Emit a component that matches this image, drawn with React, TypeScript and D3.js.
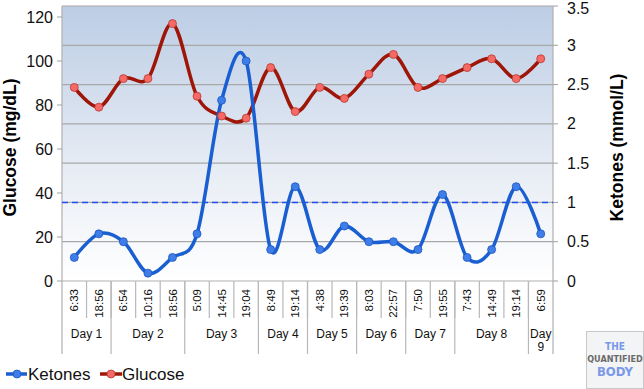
import React from "react";
import * as d3 from "d3";

const times = ["6:33","18:56","6:54","10:16","18:56","5:09","14:45","19:04","8:49","19:14","4:38","19:39","8:03","22:57","7:50","19:55","7:43","14:49","19:14","6:59"];
const days = [
  { label: "Day 1", count: 2 },
  { label: "Day 2", count: 3 },
  { label: "Day 3", count: 3 },
  { label: "Day 4", count: 2 },
  { label: "Day 5", count: 2 },
  { label: "Day 6", count: 2 },
  { label: "Day 7", count: 2 },
  { label: "Day 8", count: 3 },
  { label: "Day 9", count: 1 },
];
const glucose = [88,79,92,92,117,84,75,74,97,77,88,83,94,103,88,92,97,101,92,101];
const ketones = [0.3,0.6,0.5,0.1,0.3,0.6,2.3,2.8,0.4,1.2,0.4,0.7,0.5,0.5,0.4,1.1,0.3,0.4,1.2,0.6];
const glucoseTicks = [0,20,40,60,80,100,120];
const ketoneTicks = [0,0.5,1,1.5,2,2.5,3,3.5];
const threshold = 1;

const W = 644, H = 389;
const L = 62, R = 553, T = 6, B = 281;
const FONT = "Liberation Sans, Arial, sans-serif";

export default function App() {
  const x = d3.scaleBand<number>().domain(d3.range(times.length)).range([L, R]);
  const cx = (i: number) => (x(i) as number) + x.bandwidth() / 2;
  const yG = d3.scaleLinear().domain([0, 125]).range([B, T]);
  const yK = d3.scaleLinear().domain([0, 3.5]).range([B, T]);
  const curve = d3.curveCardinal.tension(0);
  const gLine = d3.line<number>().x((_, i) => cx(i)).y(d => yG(d)).curve(curve);
  const kLine = d3.line<number>().x((_, i) => cx(i)).y(d => yK(d)).curve(curve);

  let acc = 0;
  const dayPos = days.map(d => {
    const start = acc;
    acc += d.count;
    return { ...d, x0: x(start) as number, x1: start + d.count >= times.length ? R : (x(start + d.count) as number) };
  });

  return (
    <svg width={W} height={H} style={{ position: "absolute", left: 0, top: 0, fontFamily: FONT }}>
      <defs>
        <linearGradient id="bg" x1="0" y1="0" x2="0" y2="1">
          <stop offset="0" stopColor="#bccde5" />
          <stop offset="0.65" stopColor="#ebeff6" />
          <stop offset="1" stopColor="#ffffff" />
        </linearGradient>
        <clipPath id="clip"><rect x={L} y={T - 5} width={R - L} height={B - T + 5} /></clipPath>
      </defs>
      <rect x={0} y={0} width={W} height={H} fill="#fff" />
      <rect x={L} y={T} width={R - L} height={B - T} fill="url(#bg)" />
      {ketoneTicks.slice(1).map(t => (
        <line key={t} x1={L} x2={R} y1={yK(t)} y2={yK(t)} stroke="#a8a8a8" strokeWidth={1.2} />
      ))}
      {/* axes */}
      <line x1={L} x2={L} y1={T} y2={354} stroke="#b0b0b0" strokeWidth={1.2} />
      <line x1={R} x2={R} y1={T} y2={354} stroke="#b0b0b0" strokeWidth={1.2} />
      <line x1={L} x2={R} y1={B} y2={B} stroke="#b0b0b0" strokeWidth={1.2} />
      {glucoseTicks.map(t => (
        <g key={t}>
          <line x1={L - 5} x2={L} y1={yG(t)} y2={yG(t)} stroke="#a0a0a0" />
          <text x={53} y={yG(t)} dy="0.35em" textAnchor="end" fontSize={16} fill="#111">{t}</text>
        </g>
      ))}
      {ketoneTicks.map(t => (
        <g key={t}>
          <line x1={R} x2={R + 5} y1={yK(t)} y2={yK(t)} stroke="#a0a0a0" />
          <text x={567} y={Math.max(yK(t), 8)} dy="0.35em" textAnchor="start" fontSize={16} fill="#111">{t}</text>
        </g>
      ))}
      <text transform={`translate(16,${(T + B) / 2 + 4}) rotate(-90)`} textAnchor="middle" fontSize={17.5} fontWeight="bold" fill="#000">Glucose (mg/dL)</text>
      <text transform={`translate(623,${(T + B) / 2 + 4}) rotate(-90)`} textAnchor="middle" fontSize={17.5} fontWeight="bold" fill="#000">Ketones (mmol/L)</text>
      {/* category ticks */}
      {times.map((t, i) => (
        <g key={i}>
          {i > 0 && <line x1={x(i) as number} x2={x(i) as number} y1={B} y2={318} stroke="#b8b8b8" strokeWidth={1.2} />}
          <text transform={`translate(${cx(i)},289) rotate(-90)`} textAnchor="end" dy="0.35em" fontSize={11.5} fill="#111">{t}</text>
        </g>
      ))}
      {dayPos.map((d, i) => (
        <g key={d.label}>
          {i > 0 && <line x1={d.x0} x2={d.x0} y1={B} y2={354} stroke="#b8b8b8" strokeWidth={1.2} />}
          {d.count > 1 ? (
            <text x={(d.x0 + d.x1) / 2} y={338} textAnchor="middle" fontSize={12} fill="#111">{d.label}</text>
          ) : (
            <text textAnchor="middle" fontSize={12} fill="#111">
              <tspan x={(d.x0 + d.x1) / 2} y={338}>{d.label.split(" ")[0]}</tspan>
              <tspan x={(d.x0 + d.x1) / 2} y={351}>{d.label.split(" ")[1]}</tspan>
            </text>
          )}
        </g>
      ))}
      <line x1={L} x2={R} y1={yK(threshold)} y2={yK(threshold)} stroke="#1f4ff0" strokeWidth={1.6} strokeDasharray="6,4" />
      <g clipPath="url(#clip)">
        <path d={gLine(glucose) as string} fill="none" stroke="#9e1608" strokeWidth={3.5} />
        <path d={kLine(ketones) as string} fill="none" stroke="#1a5fd2" strokeWidth={3.5} />
      </g>
      {glucose.map((v, i) => (
        <circle key={"g" + i} cx={cx(i)} cy={yG(v)} r={4} fill="#f56a66" stroke="#b83a30" strokeWidth={0.8} />
      ))}
      {ketones.map((v, i) => (
        <circle key={"k" + i} cx={cx(i)} cy={yK(v)} r={4} fill="#3f7ee8" stroke="#1a55c0" strokeWidth={0.8} />
      ))}
      {/* legend */}
      <line x1={6} x2={27} y1={374} y2={374} stroke="#1a5fd2" strokeWidth={3.5} />
      <circle cx={17} cy={374} r={4} fill="#3f7ee8" stroke="#1a55c0" strokeWidth={0.8} />
      <text x={28} y={374} dy="0.36em" fontSize={17} fill="#111">Ketones</text>
      <line x1={100} x2={122} y1={374} y2={374} stroke="#9e1608" strokeWidth={3.5} />
      <circle cx={111} cy={374} r={4} fill="#f56a66" stroke="#b83a30" strokeWidth={0.8} />
      <text x={122} y={374} dy="0.36em" fontSize={17} fill="#111">Glucose</text>
      {/* watermark */}
      <rect x={586.5} y={331.5} width={57} height={57} fill="#f3f4f6" stroke="#c8c8c8" />
      <text x={615} y={350} textAnchor="middle" fontSize={10} fontWeight="bold" fill="#7a98e8" fontFamily="DejaVu Sans Condensed, sans-serif">THE</text>
      <text x={615} y={362} textAnchor="middle" fontSize={9} fontWeight="bold" fill="#6b6b6b" fontFamily="DejaVu Sans Condensed, sans-serif">QUANTIFIED</text>
      <text x={615} y={376} textAnchor="middle" fontSize={13} fontWeight="bold" fill="#7a98e8" fontFamily="DejaVu Sans Condensed, sans-serif">BODY</text>
    </svg>
  );
}
